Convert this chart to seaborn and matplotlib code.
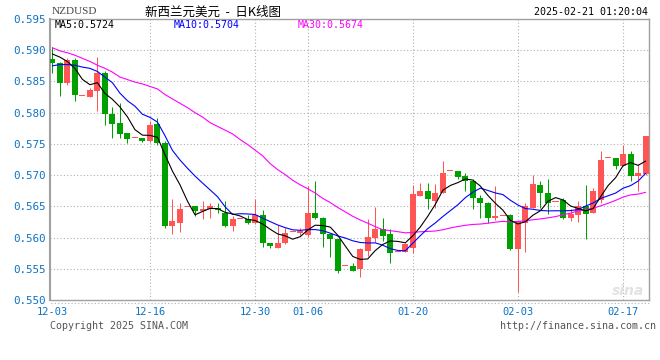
import numpy as np
import pandas as pd
import matplotlib
matplotlib.use("Agg")
import matplotlib.pyplot as plt
import seaborn as sns
from matplotlib.lines import Line2D

# Daily NZD/USD candles, 2024-12-03 .. 2025-02-20 (calendar days, Saturdays are flat)
dates = pd.date_range("2024-12-03", periods=80, freq="D")
opens = [0.5886, 0.5880, 0.5847, 0.5884, 0.5827, 0.5825, 0.5835, 0.5863, 0.5798, 0.5783,
         0.5767, 0.5760, 0.5760, 0.5754, 0.5782, 0.5752, 0.5619, 0.5623, 0.5649, 0.5650,
         0.5642, 0.5645, 0.5648, 0.5640, 0.5619, 0.5630, 0.5630, 0.5623, 0.5636, 0.5591,
         0.5584, 0.5591, 0.5609, 0.5608, 0.5604, 0.5640, 0.5632, 0.5605, 0.5597, 0.5554,
         0.5554, 0.5550, 0.5578, 0.5599, 0.5613, 0.5605, 0.5577, 0.5577, 0.5583, 0.5667,
         0.5674, 0.5658, 0.5671, 0.5707, 0.5707, 0.5699, 0.5690, 0.5664, 0.5656, 0.5632,
         0.5635, 0.5636, 0.5581, 0.5624, 0.5647, 0.5684, 0.5672, 0.5657, 0.5660, 0.5631,
         0.5636, 0.5651, 0.5639, 0.5660, 0.5728, 0.5728, 0.5715, 0.5734, 0.5699, 0.5702]
highs = [0.5905, 0.5881, 0.5888, 0.5888, 0.5827, 0.5839, 0.5889, 0.5866, 0.5809, 0.5816,
         0.5767, 0.5760, 0.5760, 0.5786, 0.5792, 0.5755, 0.5661, 0.5655, 0.5649, 0.5651,
         0.5659, 0.5656, 0.5656, 0.5659, 0.5635, 0.5630, 0.5636, 0.5662, 0.5644, 0.5591,
         0.5620, 0.5615, 0.5609, 0.5615, 0.5683, 0.5691, 0.5633, 0.5606, 0.5598, 0.5554,
         0.5560, 0.5584, 0.5629, 0.5649, 0.5632, 0.5614, 0.5577, 0.5591, 0.5684, 0.5688,
         0.5687, 0.5685, 0.5722, 0.5707, 0.5707, 0.5704, 0.5693, 0.5668, 0.5657, 0.5683,
         0.5635, 0.5637, 0.5627, 0.5655, 0.5700, 0.5690, 0.5694, 0.5657, 0.5663, 0.5645,
         0.5659, 0.5684, 0.5679, 0.5738, 0.5728, 0.5728, 0.5749, 0.5738, 0.5717, 0.5762]
lows = [0.5864, 0.5826, 0.5845, 0.5818, 0.5827, 0.5825, 0.5802, 0.5780, 0.5759, 0.5760,
        0.5751, 0.5760, 0.5753, 0.5753, 0.5749, 0.5616, 0.5605, 0.5609, 0.5649, 0.5635,
        0.5630, 0.5631, 0.5639, 0.5617, 0.5611, 0.5630, 0.5622, 0.5622, 0.5585, 0.5583,
        0.5584, 0.5590, 0.5609, 0.5604, 0.5601, 0.5630, 0.5585, 0.5569, 0.5543, 0.5554,
        0.5546, 0.5537, 0.5571, 0.5593, 0.5595, 0.5560, 0.5577, 0.5577, 0.5576, 0.5667,
        0.5645, 0.5648, 0.5671, 0.5707, 0.5693, 0.5674, 0.5645, 0.5631, 0.5623, 0.5628,
        0.5635, 0.5580, 0.5513, 0.5577, 0.5647, 0.5648, 0.5638, 0.5657, 0.5630, 0.5627,
        0.5625, 0.5598, 0.5639, 0.5655, 0.5728, 0.5709, 0.5714, 0.5691, 0.5675, 0.5700]
closes = [0.5880, 0.5847, 0.5884, 0.5829, 0.5827, 0.5837, 0.5863, 0.5798, 0.5782, 0.5766,
          0.5758, 0.5760, 0.5754, 0.5780, 0.5751, 0.5619, 0.5627, 0.5645, 0.5649, 0.5642,
          0.5646, 0.5651, 0.5644, 0.5619, 0.5629, 0.5630, 0.5623, 0.5636, 0.5591, 0.5587,
          0.5592, 0.5608, 0.5609, 0.5611, 0.5640, 0.5631, 0.5605, 0.5597, 0.5546, 0.5554,
          0.5547, 0.5581, 0.5601, 0.5613, 0.5603, 0.5575, 0.5577, 0.5590, 0.5669, 0.5674,
          0.5661, 0.5672, 0.5703, 0.5707, 0.5697, 0.5690, 0.5663, 0.5655, 0.5632, 0.5634,
          0.5635, 0.5581, 0.5627, 0.5650, 0.5686, 0.5671, 0.5656, 0.5657, 0.5631, 0.5638,
          0.5651, 0.5637, 0.5675, 0.5725, 0.5728, 0.5714, 0.5734, 0.5699, 0.5703, 0.5762]

# moving average values before the window is full (history not shown on the chart)
ma5_head = [0.5894, 0.5889, 0.5882, 0.5871]
ma10_head = [0.5875, 0.5877, 0.5877, 0.5876, 0.5873, 0.5871, 0.5866, 0.5857, 0.5848]
ma30_head = [0.5904, 0.5899, 0.5896, 0.5892, 0.5887, 0.5882, 0.5876, 0.5871, 0.5865, 0.5857,
             0.5853, 0.5849, 0.5846, 0.5842, 0.5838, 0.5829, 0.5822, 0.5815, 0.5808, 0.5800,
             0.5793, 0.5784, 0.5778, 0.5772, 0.5766, 0.5757, 0.5749, 0.5740, 0.5731]
ma_label_values = [0.5724, 0.5704, 0.5674]
tick_days = ["12-03", "12-16", "12-30", "01-06", "01-20", "02-03", "02-17"]
y_ticks = [0.550, 0.555, 0.560, 0.565, 0.570, 0.575, 0.580, 0.585, 0.590, 0.595]

df = pd.DataFrame({"date": dates, "open": opens, "high": highs, "low": lows, "close": closes})
df["x"] = np.arange(len(df))
for n, head in ((5, ma5_head), (10, ma10_head), (30, ma30_head)):
    ma = df["close"].rolling(n).mean()
    ma.iloc[:len(head)] = head
    df[f"ma{n}"] = ma

RED = "#FF5555"
GREEN = "#00A000"
BLUE_TXT = "#0A72C4"
W, H = 660, 360

sns.set_style("white")
plt.rcParams["font.family"] = ["DejaVu Sans Mono", "DejaVu Sans"]

fig = plt.figure(figsize=(W / 100, H / 100), dpi=100)
ax = fig.add_axes([50 / W, 1 - 300 / H, 599 / W, 281 / H])

# candles (red = up, green = down)
up = df["close"] >= df["open"]
colors = np.where(up, RED, GREEN)
body_lo = df[["open", "close"]].min(axis=1)
body_h = (df["close"] - df["open"]).abs().clip(lower=0.00015)
ax.vlines(df["x"], df["low"], df["high"], colors=colors, lw=0.72, zorder=2)
ax.bar(df["x"], body_h, bottom=body_lo, width=0.8, color=colors, linewidth=0, zorder=3)

# moving averages
sns.lineplot(data=df, x="x", y="ma30", color="#FF00FF", lw=0.8, ax=ax, zorder=4)
sns.lineplot(data=df, x="x", y="ma10", color="#0000FF", lw=0.8, ax=ax, zorder=5)
sns.lineplot(data=df, x="x", y="ma5", color="black", lw=0.8, ax=ax, zorder=6)

ax.set_xlim(-0.31, 79.45)
ax.set_ylim(0.550, 0.595)
ax.set_xlabel("")
ax.set_ylabel("")

tick_pos = df.loc[df["date"].dt.strftime("%m-%d").isin(tick_days), "x"].tolist()
ax.set_xticks(tick_pos)
ax.set_xticklabels(tick_days)
ax.set_yticks(y_ticks)
ax.set_yticklabels([f"{v:.3f}" for v in y_ticks])
ax.tick_params(axis="x", length=0, pad=5, labelsize=7.5, labelcolor=BLUE_TXT)
ax.tick_params(axis="y", length=0, pad=3, labelsize=7.8, labelcolor=BLUE_TXT)

grid_style = dict(color="#B0B0B0", lw=0.8, linestyle=(0, (1, 2)), zorder=1)
for v in y_ticks[1:-1]:
    ax.axhline(v, **grid_style)
for p in tick_pos[1:]:
    ax.axvline(p, **grid_style)

for side, spine in ax.spines.items():
    spine.set_color("#A0A0A0")
    spine.set_linewidth(1.5 if side == "left" else 1.0)

# dotted line under the plot box
fig.add_artist(Line2D([51 / W, 651 / W], [1 - 303 / H, 1 - 303 / H], color="#B0B0B0",
                      lw=0.8, linestyle=(0, (1, 2))))

# header texts
fig.text(52 / W, 1 - 12 / H, "NZDUSD", family="Liberation Serif", fontsize=8,
         color="#444444", ha="left", va="center")
fig.text(213 / W, 1 - 12 / H, "新西兰元美元  -  日K线图",
         family=["Noto Sans CJK SC", "DejaVu Sans"], fontsize=9, color="black",
         ha="center", va="center")
fig.text(648 / W, 1 - 12 / H, "2025-02-21 01:20:04", fontsize=7.2, color="black",
         ha="right", va="center")

ma_names = ["MA5", "MA10", "MA30"]
ma_colors = ["black", "#0000FF", "#FF00FF"]
ma_x = [55, 174, 298]
for name, val, c, x in zip(ma_names, ma_label_values, ma_colors, ma_x):
    fig.text(x / W, 1 - 24.5 / H, f"{name}:{val:.4f}", fontsize=7.2, color=c,
             ha="left", va="center")

# footer
fig.text(50 / W, 1 - 326 / H, "Copyright 2025 SINA.COM", fontsize=7.2, color="#555555",
         ha="left", va="center")
fig.text(656 / W, 1 - 326 / H, "http://finance.sina.com.cn", fontsize=7.2, color="#555555",
         ha="right", va="center")
fig.text(628 / W, 1 - 291 / H, "sina", family="DejaVu Sans", fontsize=10, style="italic",
         weight="bold", color="#E2E2E2", ha="center", va="center", zorder=0)

fig.savefig("out.png", dpi=100, facecolor="white")
